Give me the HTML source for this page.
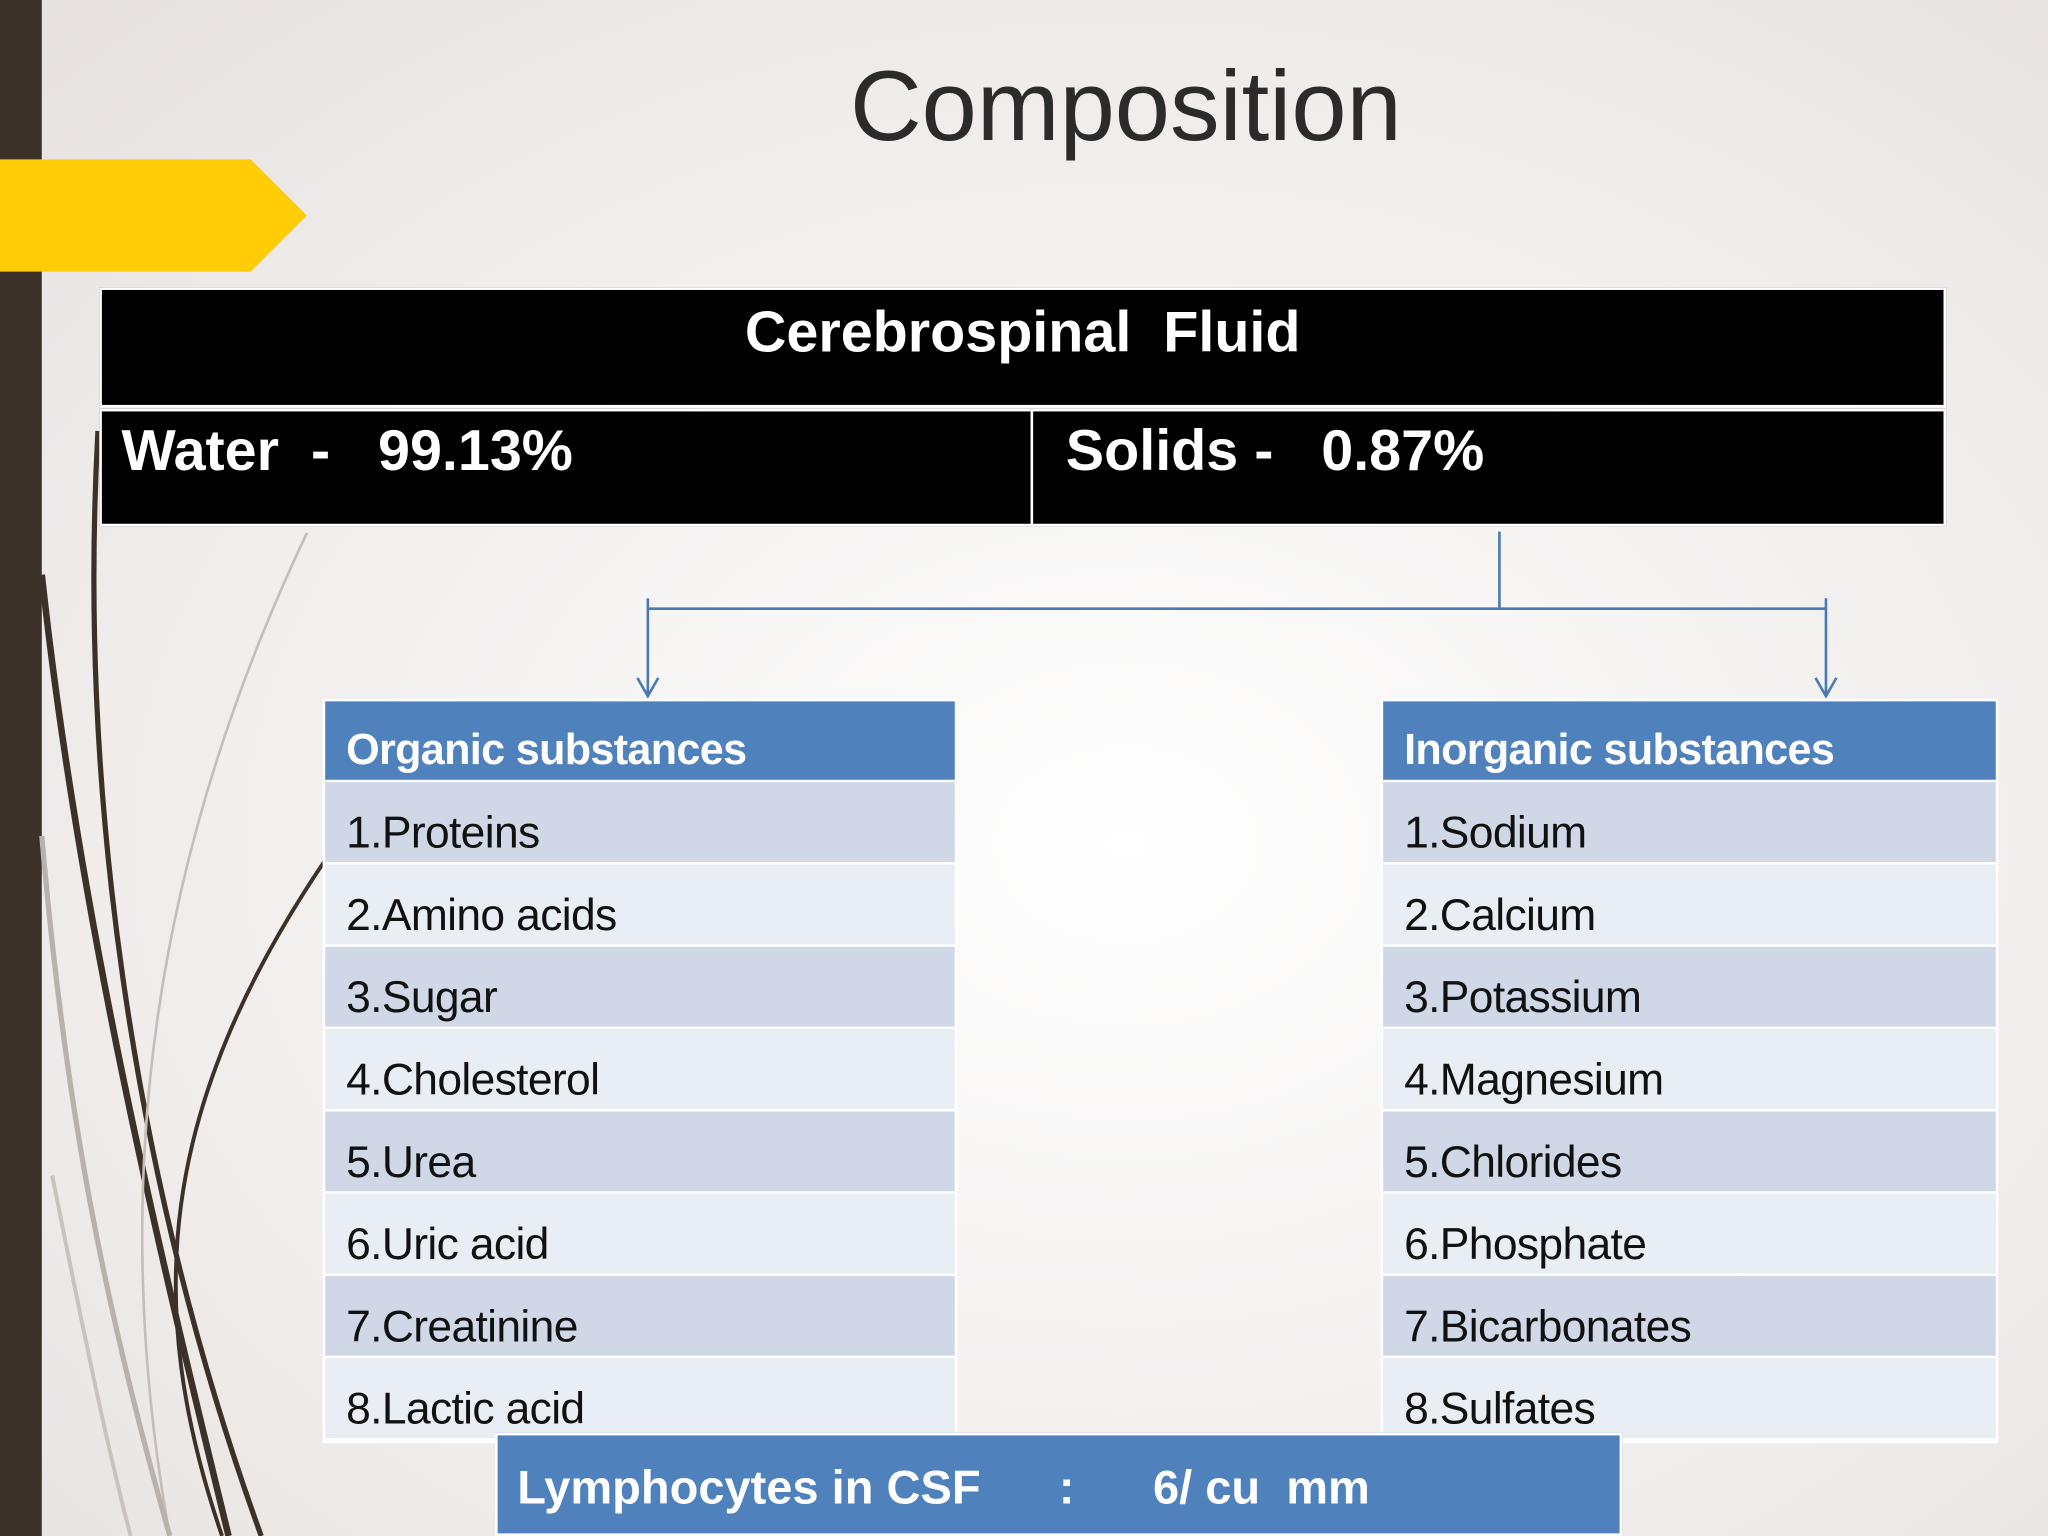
<!DOCTYPE html>
<html><head><meta charset="utf-8"><style>
html,body{margin:0;padding:0;}
body{width:2048px;height:1536px;overflow:hidden;position:relative;}
#s{position:absolute;left:0;top:0;width:1568px;height:1176px;transform:scale(1.306122);transform-origin:0 0;
background:radial-gradient(ellipse at 55% 55%,#ffffff 0%,#f4f2f1 45%,#e6e1df 100%);font-family:"Liberation Sans",sans-serif;overflow:hidden;}
.a{position:absolute;}
.tb{position:absolute;border:2px solid #fff;box-sizing:border-box;}
.row{height:63px;box-sizing:border-box;border-bottom:2px solid #fff;font-size:34px;color:#111;padding-left:16px;line-height:78px;letter-spacing:-0.5px;}
.hd{height:62px;background:#4f81bd;color:#fff;font-weight:bold;font-size:33px;padding-left:16px;line-height:74px;box-sizing:border-box;border-bottom:2px solid #fff;letter-spacing:-0.5px;}
.d{background:#d0d8e8}.l{background:#e9edf4}
</style></head><body><div id="s">
<svg class="a" style="left:0;top:0" width="1568" height="1176">
<rect x="0" y="0" width="32" height="1176" fill="#3b3129"/>
<polygon points="0,122 192,122 235,165 192,208 0,208" fill="#ffcc05"/>
<path d="M32,440 C60,700 120,950 175,1176" stroke="#3b3129" stroke-width="5" fill="none"/>
<path d="M75,330 C60,600 100,900 200,1176" stroke="#3b3129" stroke-width="4" fill="none"/>
<path d="M248,660 C120,850 110,1000 170,1176" stroke="#3b3129" stroke-width="3" fill="none"/>
<path d="M235,408 C120,650 80,900 130,1176" stroke="#c4bdb8" stroke-width="2" fill="none"/>
<path d="M32,640 C50,850 80,1000 130,1176" stroke="#b9b1ab" stroke-width="4" fill="none"/>
<path d="M40,900 C60,1000 80,1100 100,1176" stroke="#c9c2bd" stroke-width="3" fill="none"/>
<g stroke="#4a7ab5" stroke-width="2" fill="none">
<line x1="1148" y1="407" x2="1148" y2="466"/>
<line x1="496" y1="466" x2="1398" y2="466"/>
<line x1="496" y1="458" x2="496" y2="533"/>
<line x1="1398" y1="458" x2="1398" y2="533"/>
<polyline points="488,519 496,533 504,519"/>
<polyline points="1390,519 1398,533 1406,519"/>
</g>
</svg>
<div class="a" style="left:0;width:1724px;top:38px;text-align:center;font-size:76px;color:#2b2b2b;">Composition</div>
<div class="a" style="left:76px;top:220px;width:1414px;height:92px;background:#000;border:2px solid #fff;box-sizing:border-box;color:#fff;font-weight:bold;font-size:44px;text-align:center;line-height:66px;">Cerebrospinal&nbsp; Fluid</div>
<div class="a" style="left:76px;top:313px;width:715px;height:90px;background:#000;border:2px solid #fff;box-sizing:border-box;color:#fff;font-weight:bold;font-size:44px;line-height:62px;padding-left:15px;white-space:pre;">Water  -   99.13%</div>
<div class="a" style="left:789px;top:313px;width:701px;height:90px;background:#000;border:2px solid #fff;box-sizing:border-box;color:#fff;font-weight:bold;font-size:44px;line-height:62px;padding-left:25px;white-space:pre;">Solids -   0.87%</div>
<div class="tb" style="left:247px;top:535px;width:486px;">
<div class="hd">Organic substances</div>
<div class="row d">1.Proteins</div><div class="row l">2.Amino acids</div><div class="row d">3.Sugar</div><div class="row l">4.Cholesterol</div><div class="row d">5.Urea</div><div class="row l">6.Uric acid</div><div class="row d">7.Creatinine</div><div class="row l">8.Lactic acid</div>
</div>
<div class="tb" style="left:1057px;top:535px;width:473px;">
<div class="hd">Inorganic substances</div>
<div class="row d">1.Sodium</div><div class="row l">2.Calcium</div><div class="row d">3.Potassium</div><div class="row l">4.Magnesium</div><div class="row d">5.Chlorides</div><div class="row l">6.Phosphate</div><div class="row d">7.Bicarbonates</div><div class="row l">8.Sulfates</div>
</div>
<div class="a" style="left:379px;top:1097px;width:863px;height:79px;background:#4f81bd;border:2px solid #fff;box-sizing:border-box;color:#fff;font-weight:bold;font-size:36px;line-height:80px;padding-left:15px;white-space:pre;">Lymphocytes in CSF      :      6/ cu  mm</div>
</div></body></html>
